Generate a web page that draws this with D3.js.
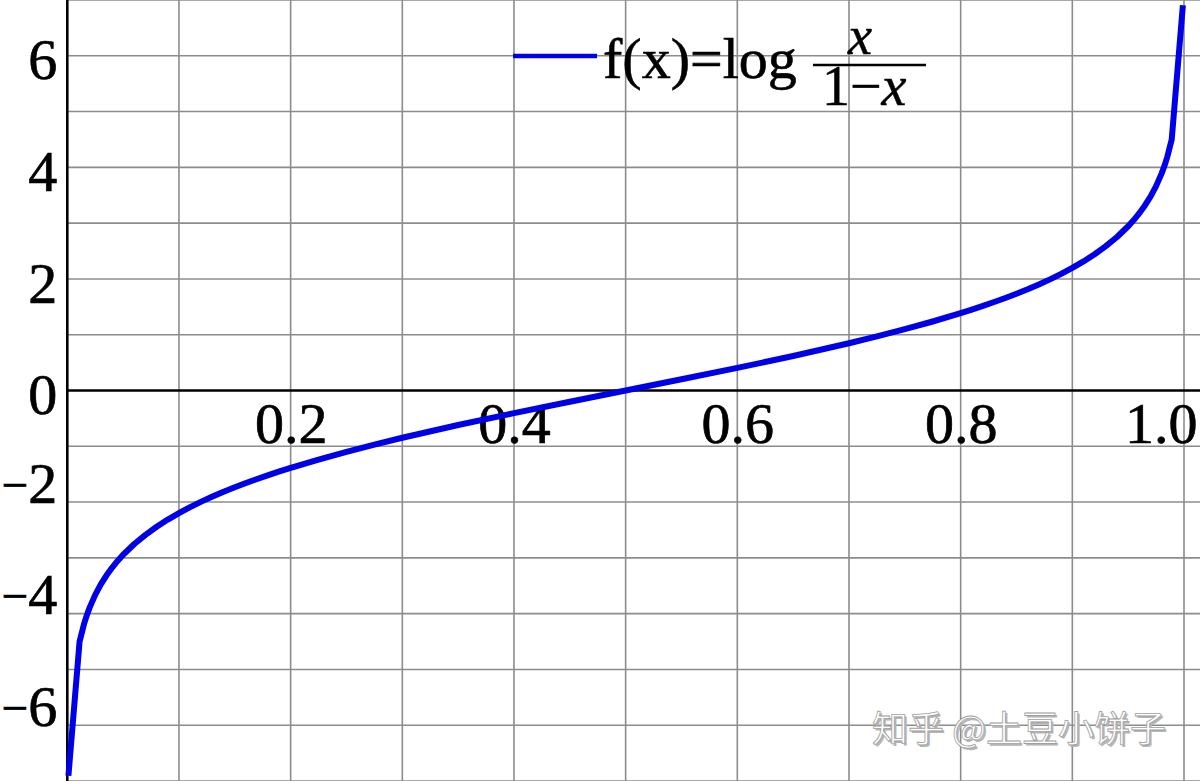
<!doctype html>
<html>
<head>
<meta charset="utf-8">
<script src="https://cdn.jsdelivr.net/npm/d3@7"></script>
<style>
  html, body { margin: 0; padding: 0; background: #fff; }
  svg { display: block; }
</style>
</head>
<body>
<div id="chart"></div>
<script>
const xs = [
  0.001, 0.011, 0.015, 0.0175, 0.02, 0.025, 0.03, 0.035, 0.04, 0.045, 0.05,
  0.06, 0.07, 0.08, 0.09, 0.1, 0.11, 0.12, 0.13, 0.14, 0.15, 0.16, 0.17, 0.18, 0.19,
  0.2, 0.225, 0.25, 0.275, 0.3, 0.35, 0.4, 0.45, 0.5,
  0.55, 0.6, 0.65, 0.7, 0.725, 0.75, 0.775, 0.8,
  0.81, 0.82, 0.83, 0.84, 0.85, 0.86, 0.87, 0.88, 0.89, 0.9, 0.91, 0.92, 0.93, 0.94,
  0.95, 0.955, 0.96, 0.965, 0.97, 0.975, 0.98, 0.9825, 0.985, 0.989, 0.999
];
const ys = [
  -6.907, -4.499, -4.185, -4.028, -3.892, -3.664, -3.476, -3.317, -3.178, -3.055, -2.944,
  -2.752, -2.587, -2.442, -2.314, -2.197, -2.091, -1.992, -1.901, -1.815, -1.735, -1.658, -1.586, -1.516, -1.450,
  -1.386, -1.237, -1.099, -0.969, -0.847, -0.619, -0.405, -0.201, 0.0,
  0.201, 0.405, 0.619, 0.847, 0.969, 1.099, 1.237, 1.386,
  1.450, 1.516, 1.586, 1.658, 1.735, 1.815, 1.901, 1.992, 2.091, 2.197, 2.314, 2.442, 2.587, 2.752,
  2.944, 3.055, 3.178, 3.317, 3.476, 3.664, 3.892, 4.028, 4.185, 4.499, 6.907
];

const xTicks = [0.2, 0.4, 0.6, 0.8, 1.0];
const xTickLabels = ["0.2", "0.4", "0.6", "0.8", "1.0"];
const yTicks = [-6, -4, -2, 0, 2, 4, 6];
const yTickLabels = ["\u22126", "\u22124", "\u22122", "0", "2", "4", "6"];
const gridX = [0.1, 0.2, 0.3, 0.4, 0.5, 0.6, 0.7, 0.8, 0.9, 1.0];
const gridY = [-7, -6, -5, -4, -3, -2, -1, 1, 2, 3, 4, 5, 6, 7];

const W = 1200, H = 781;
const serif = '"Liberation Serif", "Times New Roman", serif';
const blue = "#0000e8";

const x = d3.scaleLinear().domain([0, 1]).range([67.3, 1184]);
const y = d3.scaleLinear().domain([-7, 7]).range([781, 0]);

const svg = d3.select("#chart")
  .append("svg")
  .attr("width", W)
  .attr("height", H)
  .style("font-family", serif);

svg.append("rect").attr("width", W).attr("height", H).attr("fill", "#fff");

// Grid
svg.append("g")
  .selectAll("line.gx")
  .data(gridX)
  .join("line")
  .attr("x1", (d) => x(d)).attr("x2", (d) => x(d))
  .attr("y1", 0).attr("y2", H)
  .attr("stroke", "#8c8c8c")
  .attr("stroke-width", 1.6);

svg.append("g")
  .selectAll("line.gy")
  .data(gridY)
  .join("line")
  .attr("x1", x(0)).attr("x2", W)
  .attr("y1", (d) => y(d)).attr("y2", (d) => y(d))
  .attr("stroke", "#8c8c8c")
  .attr("stroke-width", 1.6);

// Axis lines
svg.append("line")
  .attr("x1", x(0)).attr("x2", W)
  .attr("y1", y(0)).attr("y2", y(0))
  .attr("stroke", "#000").attr("stroke-width", 2.6);

svg.append("line")
  .attr("x1", x(0)).attr("x2", x(0))
  .attr("y1", 0).attr("y2", H)
  .attr("stroke", "#000").attr("stroke-width", 2.6);

// Tick labels via d3 axes (no tick marks, no domain path)
const xAxis = d3.axisBottom(x)
  .tickValues(xTicks)
  .tickSize(0)
  .tickPadding(11)
  .tickFormat((d, i) => xTickLabels[i]);

const xg = svg.append("g")
  .attr("transform", `translate(0,${y(0)})`)
  .call(xAxis);
xg.select(".domain").remove();
xg.selectAll("text")
  .attr("font-family", serif)
  .attr("font-size", 58)
  .attr("fill", "#000")
  .attr("stroke", "#000")
  .attr("stroke-width", 0.7)
  .attr("dy", "0.71em");
// last label is pulled in so it stays on the canvas
xg.selectAll(".tick")
  .filter((d) => d === 1.0)
  .select("text")
  .attr("text-anchor", "end")
  .attr("x", W - 3 - x(1.0));

const yAxis = d3.axisLeft(y)
  .tickValues(yTicks)
  .tickSize(0)
  .tickPadding(10)
  .tickFormat(() => "");

const yg = svg.append("g")
  .attr("transform", `translate(${x(0)},0)`)
  .call(yAxis);
yg.select(".domain").remove();

// minus drawn a bit smaller so the negative labels fit on the canvas
yg.selectAll(".tick text")
  .attr("font-family", serif)
  .attr("font-size", 58)
  .attr("fill", "#000")
  .attr("stroke", "#000")
  .attr("stroke-width", 0.7)
  .attr("dy", "0.4em")
  .each(function (d) {
    const label = yTickLabels[yTicks.indexOf(d)];
    const t = d3.select(this);
    if (label.startsWith("\u2212")) {
      t.append("tspan").attr("font-size", 47).attr("dy", -2).text("\u2212");
      t.append("tspan").attr("dy", 2).text(label.slice(1));
    } else {
      t.text(label);
    }
  });

// Curve
const pts = xs.map((v, i) => [v, ys[i]]);
const line = d3.line()
  .x((d) => x(d[0]))
  .y((d) => y(d[1]))
  .curve(d3.curveLinear);

svg.append("path")
  .datum(pts)
  .attr("d", line)
  .attr("fill", "none")
  .attr("stroke", blue)
  .attr("stroke-width", 6)
  .attr("stroke-linejoin", "round");

// Legend
const lg = svg.append("g");
lg.append("line")
  .attr("x1", 513).attr("x2", 597)
  .attr("y1", 56).attr("y2", 56)
  .attr("stroke", blue).attr("stroke-width", 4.5);

lg.append("text")
  .attr("x", 603).attr("y", 78)
  .attr("font-size", 58)
  .attr("fill", "#000")
  .attr("stroke", "#000").attr("stroke-width", 0.6)
  .text("f(x)=log");

lg.append("line")
  .attr("x1", 813).attr("x2", 926)
  .attr("y1", 65).attr("y2", 65)
  .attr("stroke", "#000").attr("stroke-width", 2.6);

lg.append("text")
  .attr("x", 860).attr("y", 54)
  .attr("text-anchor", "middle")
  .attr("font-size", 54)
  .attr("font-style", "italic")
  .attr("fill", "#000")
  .attr("stroke", "#000").attr("stroke-width", 0.5)
  .text("x");

const den = lg.append("text")
  .attr("x", 822).attr("y", 105)
  .attr("font-size", 56)
  .attr("fill", "#000")
  .attr("stroke", "#000").attr("stroke-width", 0.5);
den.append("tspan").text("1\u2212");
den.append("tspan").attr("font-style", "italic").text("x");

// Watermark
const wmFont = '"Noto Sans CJK SC", "Noto Sans", sans-serif';
const wmText = "知乎 @土豆小饼子";
svg.append("text")
  .attr("x", 874).attr("y", 744)
  .attr("font-family", wmFont)
  .attr("font-size", 36)
  .attr("fill", "#b5b5b5")
  .text(wmText);
svg.append("text")
  .attr("x", 872).attr("y", 742)
  .attr("font-family", wmFont)
  .attr("font-size", 36)
  .attr("fill", "#ffffff")
  .attr("stroke", "#a0a0a0")
  .attr("stroke-width", 0.8)
  .text(wmText);
</script>
</body>
</html>
